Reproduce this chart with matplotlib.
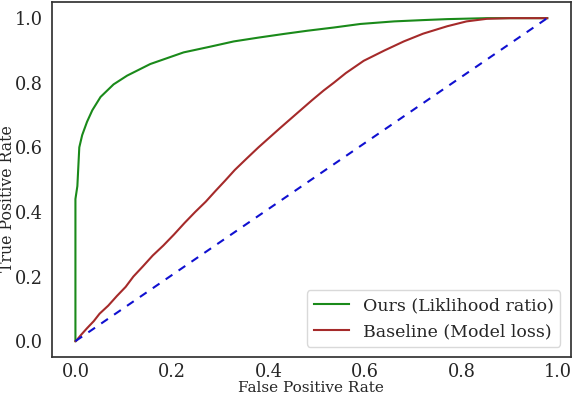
import matplotlib
matplotlib.use("Agg")
import matplotlib.pyplot as plt

# ROC curve data
ours_fpr = [0.0, 0.0, 0.004, 0.008, 0.014, 0.024, 0.035, 0.052, 0.079, 0.107,
            0.155, 0.224, 0.28, 0.328, 0.38, 0.431, 0.48, 0.535, 0.59, 0.66,
            0.72, 0.77, 0.852, 0.92, 0.977]
ours_tpr = [0.0, 0.44, 0.48, 0.60, 0.638, 0.679, 0.715, 0.756, 0.795, 0.822,
            0.858, 0.894, 0.912, 0.928, 0.94, 0.951, 0.961, 0.971, 0.982, 0.99,
            0.994, 0.997, 1.0, 1.0, 1.0]

base_fpr = [0.0, 0.002, 0.012, 0.024, 0.038, 0.05, 0.068, 0.086, 0.104, 0.12,
            0.14, 0.16, 0.182, 0.204, 0.226, 0.248, 0.27, 0.29, 0.31, 0.33,
            0.355, 0.379, 0.40, 0.424, 0.447, 0.47, 0.49, 0.514, 0.535, 0.56,
            0.597, 0.64, 0.68, 0.72, 0.77, 0.81, 0.852, 0.90, 0.94, 0.977]
base_tpr = [0.0, 0.002, 0.02, 0.04, 0.062, 0.085, 0.11, 0.14, 0.168, 0.20,
            0.232, 0.265, 0.296, 0.33, 0.366, 0.40, 0.432, 0.465, 0.497, 0.53,
            0.566, 0.60, 0.628, 0.66, 0.69, 0.72, 0.746, 0.776, 0.80, 0.83,
            0.868, 0.90, 0.928, 0.952, 0.975, 0.99, 0.998, 1.0, 1.0, 1.0]

diag_x = [0.0, 0.977]
diag_y = [0.0, 1.0]

labels = ["Ours (Liklihood ratio)", "Baseline (Model loss)"]

plt.rcParams["font.family"] = "DejaVu Serif"
edge = "#333333"
txt = "#262626"

fig = plt.figure(figsize=(5.76, 4.01), dpi=100)
ax = fig.add_axes([0.090, 0.109, 0.901, 0.886])

ax.plot(ours_fpr, ours_tpr, color="#1a8a1a", lw=1.5, label=labels[0])
ax.plot(base_fpr, base_tpr, color="#a52a2a", lw=1.5, label=labels[1])
ax.plot(diag_x, diag_y, color="#1010d0", lw=1.5, linestyle=(0, (3.9, 3.6)))

ax.set_xticks([0.0, 0.2, 0.4, 0.6, 0.8, 1.0])
ax.set_yticks([0.0, 0.2, 0.4, 0.6, 0.8, 1.0])
ax.tick_params(axis="both", length=0, labelsize=12.8, colors=txt)
ax.tick_params(axis="y", pad=6.5)
ax.tick_params(axis="x", pad=4.0)
for s in ax.spines.values():
    s.set_color(edge)
    s.set_linewidth(1.25)

ax.set_xlabel("False Positive Rate", fontsize=11, color=txt, labelpad=0)
ax.set_ylabel("True Positive Rate", fontsize=11.3, color=txt)
ax.yaxis.set_label_coords(-0.069, 0.447)

leg = ax.legend(loc="lower right", fontsize=12.5, frameon=True, fancybox=True,
                borderaxespad=0.6, handlelength=2.0)
leg.get_frame().set_edgecolor("#d0d0d0")
for t in leg.get_texts():
    t.set_color(txt)

fig.savefig("out.png", dpi=100)
